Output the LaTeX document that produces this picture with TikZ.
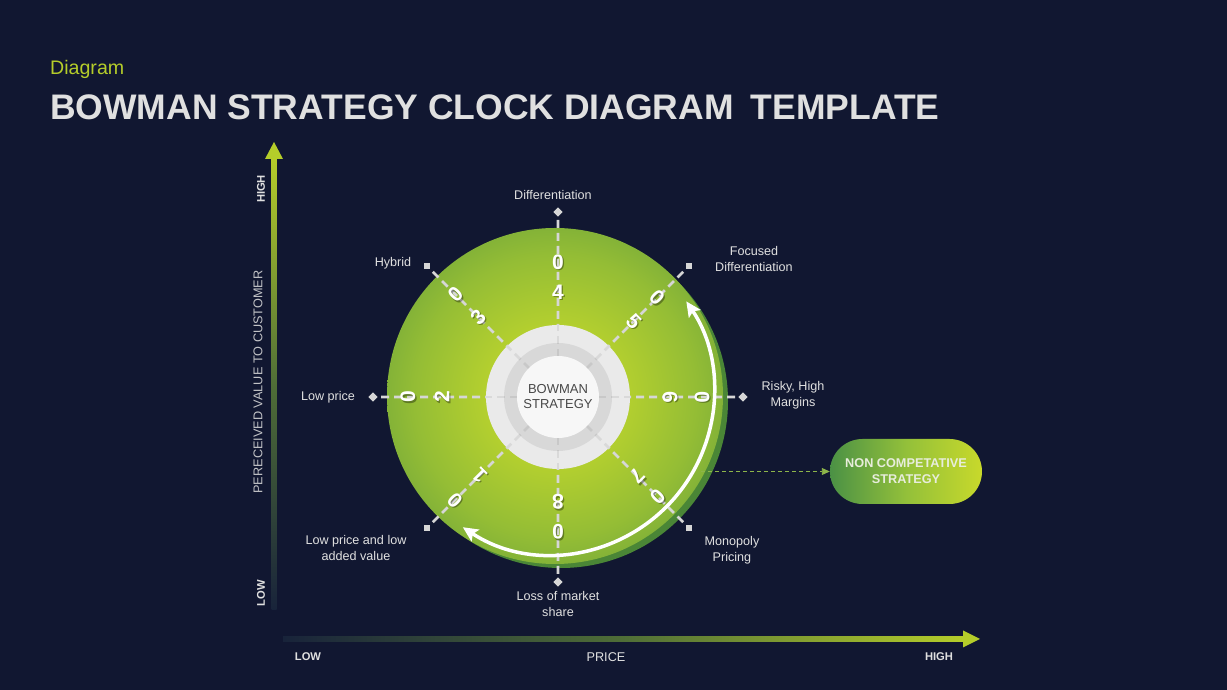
\documentclass[tikz,border=0pt]{standalone}
\usepackage{fontspec}
\setmainfont{Liberation Sans}
\usetikzlibrary{arrows.meta,calc}
\definecolor{bg}{HTML}{111731}
\definecolor{lime}{HTML}{B5CD2A}
\definecolor{axdark}{HTML}{18233A}
\definecolor{axmid}{HTML}{4F6E37}
\definecolor{lbl}{HTML}{E0E0E0}
\definecolor{spokec}{HTML}{D6D6D6}
\definecolor{cIn}{HTML}{B8D22E}
\definecolor{cMid}{HTML}{94BD35}
\definecolor{cOut}{HTML}{5C993E}
\definecolor{shadowgreen}{HTML}{4A8636}
\definecolor{ringA}{HTML}{EAEAEA}
\definecolor{ringB}{HTML}{D8D8D8}
\definecolor{coretext}{HTML}{484848}
\definecolor{pillL}{HTML}{4B9145}
\definecolor{pillM}{HTML}{93C03A}
\definecolor{pillR}{HTML}{C8D92B}
\definecolor{pilltext}{HTML}{E8EDDC}
\definecolor{dashc}{HTML}{8DB54A}
\pgfdeclareradialshading{clockshade}{\pgfpoint{0bp}{0bp}}{color(0bp)=(cIn); color(9bp)=(cIn); color(21bp)=(cMid); color(35bp)=(cOut); color(50bp)=(cOut)}
\tikzset{
  lbltext/.style={text=lbl, align=center, inner sep=0pt, font=\fontsize{12.6}{16}\selectfont},
  axbold/.style={text=lbl, inner sep=0pt, font=\bfseries\fontsize{11.2}{13}\selectfont},
  axreg/.style={text=lbl, inner sep=0pt, font=\fontsize{12.7}{15}\selectfont},
  marker/.style={rectangle, fill=spokec, minimum size=6.5pt, inner sep=0pt},
  spokeline/.style={draw=spokec, line width=2.8pt, dash pattern=on 8pt off 5pt},
  ghostline/.style={draw=black, opacity=0.07, line width=2.8pt, dash pattern=on 8pt off 5pt},
  digit/.style={text=white, inner sep=0pt, font=\bfseries\fontsize{21}{21}\selectfont},
  digitsh/.style={text=black, opacity=0.35, inner sep=0pt, font=\bfseries\fontsize{21}{21}\selectfont},
  pillbox/.style={rounded corners=32.5pt, minimum width=152pt, minimum height=65pt, inner sep=0pt,
     left color=pillL, right color=pillR, middle color=pillM, text=pilltext, align=center,
     font=\bfseries\fontsize{12.7}{16}\selectfont},
}
\begin{document}
\begin{tikzpicture}[x=1pt,y=1pt]
\fill[bg] (0,0) rectangle (1227,690);
\useasboundingbox (0,0) rectangle (1227,690);

% titles
\node[anchor=base west, inner sep=0pt, text=lime, font=\fontsize{19.6}{22}\selectfont] (sub) at (50,615) {Diagram};
\node[anchor=base west, inner sep=0pt, text=lbl, font=\bfseries\fontsize{35.5}{40}\selectfont] (title) at (50,570) {BOWMAN STRATEGY CLOCK DIAGRAM\hspace{0.2em} TEMPLATE};

% y axis
\coordinate (ybot) at (274,80);
\coordinate (ytop) at (274,531);
\shade[bottom color=axdark, top color=lime, middle color=axmid] (271.5,80) rectangle (276.5,531);
\fill[lime] (265,531) -- (274,548) -- (283,531) -- cycle;
\node[axbold, rotate=90] (yhigh) at (261,501) {HIGH};
\node[axbold, rotate=90] (ylow) at (261,97) {LOW};
\node[axreg, rotate=90, text=lbl!85!bg] (ylab) at (258,308) {PERECEIVED VALUE TO CUSTOMER};

% x axis
\shade[left color=axdark, right color=lime, middle color=axmid] (283,48.5) rectangle (963,53.5);
\fill[lime] (963,42.5) -- (980,51) -- (963,59.5) -- cycle;
\node[axbold] (xlow) at (308,33) {LOW};
\node[axreg] (xlab) at (606,33) {PRICE};
\node[axbold] (xhigh) at (939,33) {HIGH};

% clock disc
\fill[shadowgreen] (561,289) circle (167);
\shade[shading=clockshade] (555,294) circle (168);

\coordinate (C) at (558,293);
\foreach \a/\n/\ro/\ri in {90/4/135/105, 45/5/140/107, 0/6/144/112, -45/7/141/112, -90/8/135/105, -135/1/146/111, 180/2/150/116, 135/3/145/113} {
  \node[marker, rotate=\a+45] (m\n) at ($(C)+(\a:185)$) {};
  \draw[spokeline] (C) -- (m\n);
  \node[digitsh, rotate=\a-90] at ($(C)+(\a:\ro)+(1.3,-1.3)$) {0};
  \node[digitsh, rotate=\a-90] at ($(C)+(\a:\ri)+(1.3,-1.3)$) {\n};
  \node[digit, rotate=\a-90] (z\n) at ($(C)+(\a:\ro)$) {0};
  \node[digit, rotate=\a-90] (d\n) at ($(C)+(\a:\ri)$) {\n};
}

% centre
\fill[ringA] (C) circle (72);
\fill[ringB] (C) circle (54);
\foreach \a in {90,45,0,-45,-90,-135,180,135} {
  \draw[ghostline] ($(C)+(\a:40)$) -- ($(C)+(\a:72)$);
}
\node[circle, fill=white!97!black, minimum size=82pt, inner sep=0pt, text=coretext, align=center,
      font=\fontsize{13}{15}\selectfont] (core) at (C) {BOWMAN\\STRATEGY};

% white arc arrow
\coordinate (AC) at (552,298);
\draw[white, line width=3.5pt, {Stealth[length=15pt,width=14pt,inset=3pt]}-{Stealth[length=15pt,width=14pt,inset=3pt]}]
  ($(AC)+(236.6:162)$) arc[start angle=236.6, end angle=394, radius=162];

% spoke labels
\node[lbltext] (l4) at (553,495) {Differentiation};
\node[lbltext] (l5) at (754,431) {Focused\\Differentiation};
\node[lbltext] (l6) at (793,295) {Risky, High\\Margins};
\node[lbltext] (l7) at (732,140) {Monopoly\\Pricing};
\node[lbltext] (l8) at (558,86) {Loss of market\\share};
\node[lbltext] (l1) at (356,142) {Low price and low\\added value};
\node[lbltext] (l2) at (328,293) {Low price};
\node[lbltext] (l3) at (393,427) {Hybrid};

% non competitive
\node[pillbox] (pill) at (906,218.5) {NON COMPETATIVE\\STRATEGY};
\coordinate (arcpt) at (701,218.5);
\draw[dashc, line width=0.9pt, dash pattern=on 4pt off 3pt, -{Triangle[length=8pt,width=7pt]}] (arcpt) -- (pill.west);
\end{tikzpicture}
\end{document}
